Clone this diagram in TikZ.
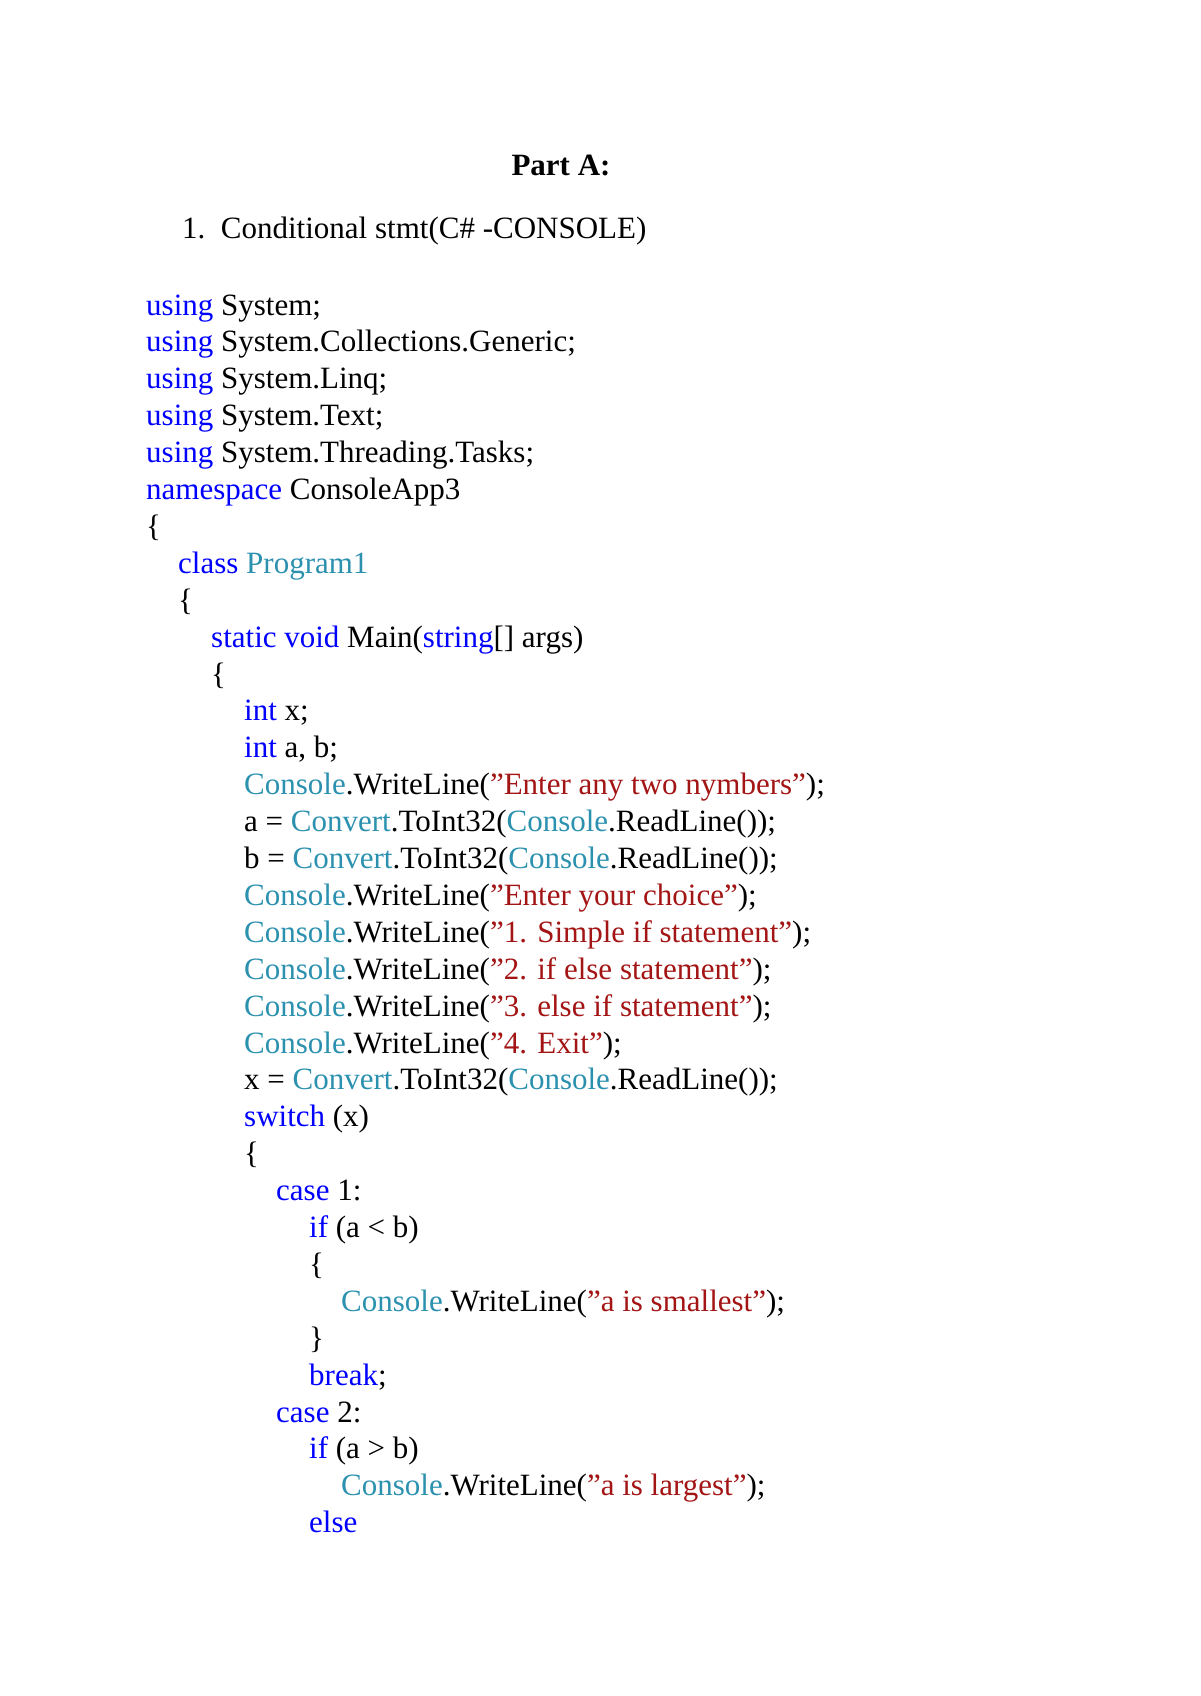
\documentclass[tikz,border=0pt]{standalone}
\usepackage{fontspec}
\setmainfont{Liberation Serif}
\definecolor{kw}{RGB}{0,0,255}
\definecolor{ty}{RGB}{43,145,175}
\definecolor{st}{RGB}{163,21,21}
\newcommand{\K}[1]{\textcolor{kw}{#1}}
\newcommand{\T}[1]{\textcolor{ty}{#1}}
\newcommand{\Str}[1]{\textcolor{st}{#1}}
\tikzset{
  code/.style={anchor=base west, inner sep=0pt, font=\fontsize{31}{37}\selectfont},
}
\begin{document}
\begin{tikzpicture}[x=1pt,y=-1pt]
    \useasboundingbox (0,0) rectangle (1200,1696);
    % heading
    \node[code, anchor=base, font=\fontsize{31}{37}\selectfont\bfseries] (title) at (561,176) {Part A:};
    \node[code] (item) at (182,239) {1.\ \ Conditional stmt(C\# -CONSOLE)};
    % code lines
    \node[code] (l1) at (146,{315+36.9*0}) {\K{using} System;};
    \node[code] (l2) at (146,{315+36.9*1}) {\K{using} System.Collections.Generic;};
    \node[code] (l3) at (146,{315+36.9*2}) {\K{using} System.Linq;};
    \node[code] (l4) at (146,{315+36.9*3}) {\K{using} System.Text;};
    \node[code] (l5) at (146,{315+36.9*4}) {\K{using} System.Threading.Tasks;};
    \node[code] (l6) at (146,{315+36.9*5}) {\K{namespace} ConsoleApp3};
    \node[code] (l7) at (146,{315+36.9*6}) {\{};
    \node[code] (l8) at (178,{315+36.9*7}) {\K{class} \T{Program1}};
    \node[code] (l9) at (178,{315+36.9*8}) {\{};
    \node[code] (l10) at (211,{315+36.9*9}) {\K{static} \K{void} Main(\K{string}[] args)};
    \node[code] (l11) at (211,{315+36.9*10}) {\{};
    \node[code] (l12) at (244,{315+36.9*11}) {\K{int} x;};
    \node[code] (l13) at (244,{315+36.9*12}) {\K{int} a, b;};
    \node[code] (l14) at (244,{315+36.9*13}) {\T{Console}.WriteLine(\Str{"Enter any two nymbers"});};
    \node[code] (l15) at (244,{315+36.9*14}) {a = \T{Convert}.ToInt32(\T{Console}.ReadLine());};
    \node[code] (l16) at (244,{315+36.9*15}) {b = \T{Convert}.ToInt32(\T{Console}.ReadLine());};
    \node[code] (l17) at (244,{315+36.9*16}) {\T{Console}.WriteLine(\Str{"Enter your choice"});};
    \node[code] (l18) at (244,{315+36.9*17}) {\T{Console}.WriteLine(\Str{"1. Simple if statement"});};
    \node[code] (l19) at (244,{315+36.9*18}) {\T{Console}.WriteLine(\Str{"2. if else statement"});};
    \node[code] (l20) at (244,{315+36.9*19}) {\T{Console}.WriteLine(\Str{"3. else if statement"});};
    \node[code] (l21) at (244,{315+36.9*20}) {\T{Console}.WriteLine(\Str{"4. Exit"});};
    \node[code] (l22) at (244,{315+36.9*21}) {x = \T{Convert}.ToInt32(\T{Console}.ReadLine());};
    \node[code] (l23) at (244,{315+36.9*22}) {\K{switch} (x)};
    \node[code] (l24) at (244,{315+36.9*23}) {\{};
    \node[code] (l25) at (276,{315+36.9*24}) {\K{case} 1:};
    \node[code] (l26) at (309,{315+36.9*25}) {\K{if} (a < b)};
    \node[code] (l27) at (309,{315+36.9*26}) {\{};
    \node[code] (l28) at (341,{315+36.9*27}) {\T{Console}.WriteLine(\Str{"a is smallest"});};
    \node[code] (l29) at (309,{315+36.9*28}) {\}};
    \node[code] (l30) at (309,{315+36.9*29}) {\K{break};};
    \node[code] (l31) at (276,{315+36.9*30}) {\K{case} 2:};
    \node[code] (l32) at (309,{315+36.9*31}) {\K{if} (a > b)};
    \node[code] (l33) at (341,{315+36.9*32}) {\T{Console}.WriteLine(\Str{"a is largest"});};
    \node[code] (l34) at (309,{315+36.9*33}) {\K{else}};
\end{tikzpicture}
\end{document}
